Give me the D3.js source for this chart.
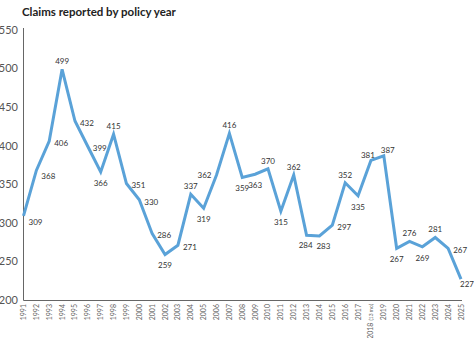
<!DOCTYPE html>
<html>
<head>
<meta charset="utf-8">
<script src="https://cdn.jsdelivr.net/npm/d3@7"></script>
<style>
  body { margin: 0; background: #fff; }
  svg { display: block; font-family: Lato, "Open Sans", sans-serif; }
</style>
</head>
<body>
<div id="chart"></div>
<script>
// data
var years = ["1991", "1992", "1993", "1994", "1995", "1996", "1997", "1998", "1999", "2000",
             "2001", "2002", "2003", "2004", "2005", "2006", "2007", "2008", "2009", "2010",
             "2011", "2012", "2013", "2014", "2015", "2016", "2017", "2018", "2019", "2020",
             "2021", "2022", "2023", "2024", "2025"];
var claims = [309, 368, 406, 499, 432, 399, 366, 415, 351, 330,
              286, 259, 271, 337, 319, 362, 416, 359, 363, 370,
              315, 362, 284, 283, 297, 352, 335, 381, 387, 267,
              276, 269, 281, 267, 227];
var yTicks = [200, 250, 300, 350, 400, 450, 500, 550];
var yearNotes = { "2018": "(13 mo)" };

// where each value label sits relative to its point: r right, a above, b below, l left
var labelSide = ["rb", "rb", "r", "a", "r", "r", "b", "a", "r", "r",
                 "r", "b", "r", "a", "b", "l", "a", "b", "b", "a",
                 "b", "a", "bl", "br", "r", "a", "b", "al", "ar", "b",
                 "a", "b", "a", "r", "end"];

var width = 474, height = 338;

var svg = d3.select("#chart").append("svg")
    .attr("width", width)
    .attr("height", height);

var x = d3.scalePoint()
    .domain(years)
    .range([23.5, 461]);

var y = d3.scaleLinear()
    .domain([200, 550])
    .range([300, 30]);

// title
svg.append("text")
    .attr("x", 22)
    .attr("y", 16)
    .style("font-size", "11.5px")
    .style("font-weight", "bold")
    .style("fill", "#222")
    .text("Claims reported by policy year");

// axes lines
svg.append("line")
    .attr("x1", 23.5).attr("x2", 23.5)
    .attr("y1", 28).attr("y2", 300.5)
    .style("stroke", "#666").style("stroke-width", 1);

svg.append("line")
    .attr("x1", 23.5).attr("x2", 462)
    .attr("y1", 300.5).attr("y2", 300.5)
    .style("stroke", "#666").style("stroke-width", 1);

// y tick labels
svg.selectAll("text.ytick")
    .data(yTicks)
    .enter()
    .append("text")
    .attr("class", "ytick")
    .attr("x", 18)
    .attr("y", function (d) { return y(d); })
    .attr("dy", "0.35em")
    .style("text-anchor", "end")
    .style("font-size", "11px")
    .style("fill", "#555")
    .text(function (d) { return d; });

// x labels, rotated
var xl = svg.selectAll("text.xtick")
    .data(years)
    .enter()
    .append("text")
    .attr("class", "xtick")
    .attr("transform", function (d) {
      return "translate(" + (x(d) + 2.5) + ",304) rotate(-90)";
    })
    .style("text-anchor", "end")
    .style("font-size", "7px")
    .style("fill", "#666")
    .text(function (d) { return d; });

xl.filter(function (d) { return yearNotes[d]; })
    .append("tspan")
    .attr("dx", 2)
    .style("font-size", "5px")
    .text(function (d) { return yearNotes[d]; });

// the line
var line = d3.line()
    .x(function (d, i) { return x(years[i]); })
    .y(function (d) { return y(d); });

svg.append("path")
    .datum(claims)
    .attr("d", line)
    .style("fill", "none")
    .style("stroke", "#5aa2d8")
    .style("stroke-width", 3)
    .style("stroke-linejoin", "miter");

// value labels
function labelOffset(side) {
  switch (side) {
    case "r":   return [5, 2, "start"];
    case "rb":  return [5, 6, "start"];
    case "a":   return [0, -8, "middle"];
    case "b":   return [0, 11, "middle"];
    case "bl":  return [-1, 10, "middle"];
    case "br":  return [4, 10, "middle"];
    case "l":   return [-5, 0, "end"];
    case "al":  return [-3, -5, "middle"];
    case "ar":  return [4, -6, "middle"];
    case "end": return [-1, 5, "start"];
  }
  return [0, 0, "middle"];
}

svg.selectAll("text.val")
    .data(claims)
    .enter()
    .append("text")
    .attr("class", "val")
    .each(function (d, i) {
      var off = labelOffset(labelSide[i]);
      d3.select(this)
          .attr("x", x(years[i]) + off[0])
          .attr("y", y(d) + off[1])
          .attr("dy", "0.35em")
          .style("text-anchor", off[2]);
    })
    .style("font-size", "8px")
    .style("fill", "#333")
    .text(function (d) { return d; });
</script>
</body>
</html>
